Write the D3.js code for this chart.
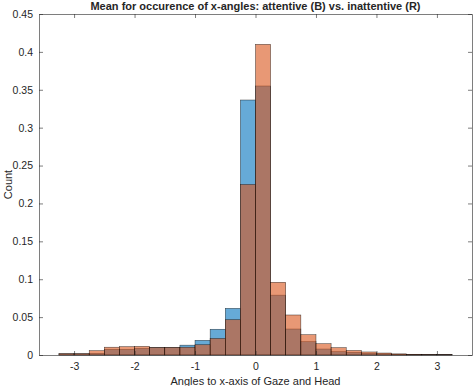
<!DOCTYPE html>
<html>
<head>
<meta charset="utf-8">
<script src="https://cdn.jsdelivr.net/npm/d3@7"></script>
<style>
  body { margin: 0; background: #fff; }
  text { font-family: "Liberation Sans", Arial, Helvetica, sans-serif; fill: #262626; }
</style>
</head>
<body>
<svg id="chart"></svg>
<script>
// left edges of the bins (width 0.25)
var binStart = [-3.25, -3.0, -2.75, -2.5, -2.25, -2.0, -1.75, -1.5, -1.25, -1.0, -0.75, -0.5, -0.25,
                0, 0.25, 0.5, 0.75, 1.0, 1.25, 1.5, 1.75, 2.0, 2.25, 2.5, 2.75, 3.0];
var binWidth = 0.25;

// attentive (B)
var attentive = [0.0015, 0.0015, 0.0022, 0.0075, 0.0075, 0.0088, 0.0102, 0.0102, 0.0130, 0.0194, 0.0340, 0.0616, 0.3365,
                 0.355, 0.079, 0.0343, 0.0176, 0.0079, 0.0044, 0.0035, 0.0022, 0.0015, 0.0010, 0.0008, 0.0005, 0.0004];
// inattentive (R)
var inattentive = [0.0018, 0.0018, 0.0057, 0.0103, 0.0110, 0.0114, 0.0100, 0.0101, 0.0103, 0.0135, 0.0218, 0.0465, 0.225,
                   0.410, 0.096, 0.0528, 0.0268, 0.0149, 0.0097, 0.0060, 0.0040, 0.0026, 0.0015, 0.0010, 0.0007, 0.0006];

var xTicks = [-3, -2, -1, 0, 1, 2, 3];
var yTicks = [0, 0.05, 0.1, 0.15, 0.2, 0.25, 0.3, 0.35, 0.4, 0.45];

var W = 474, H = 386;
var margin = {top: 14, right: 2, bottom: 31, left: 39},
    width = W - margin.left - margin.right,
    height = H - margin.top - margin.bottom;

var svg = d3.select("#chart")
    .attr("width", W)
    .attr("height", H);

var g = svg.append("g")
    .attr("transform", "translate(" + margin.left + "," + margin.top + ")");

var x = d3.scaleLinear()
    .domain([-3.58, 3.58])
    .range([0, width]);

var y = d3.scaleLinear()
    .domain([0, 0.45])
    .range([height, 0]);

function drawBars(values, color, cls) {
  g.selectAll("." + cls)
      .data(values)
    .enter().append("rect")
      .attr("class", cls)
      .attr("x", function(d, i) { return x(binStart[i]); })
      .attr("width", function(d, i) { return x(binStart[i] + binWidth) - x(binStart[i]); })
      .attr("y", function(d) { return y(d); })
      .attr("height", function(d) { return y(0) - y(d); })
      .attr("fill", color)
      .attr("fill-opacity", 0.6)
      .attr("stroke", "#000")
      .attr("stroke-opacity", 0.75)
      .attr("stroke-width", 0.5);
}

drawBars(attentive, "rgb(0,114,189)", "blue");
drawBars(inattentive, "rgb(217,83,25)", "orange");

// axes (box with inward ticks)
var tickLen = 4;
var axisColor = "#262626";

var xAxis = d3.axisBottom(x).tickValues(xTicks).tickSizeInner(-tickLen).tickSizeOuter(0).tickPadding(8)
    .tickFormat(function(d) { return d; });
var xTop = d3.axisTop(x).tickValues(xTicks).tickSizeInner(-tickLen).tickSizeOuter(0).tickFormat("");
var yAxis = d3.axisLeft(y).tickValues(yTicks).tickSizeInner(-tickLen).tickSizeOuter(0).tickPadding(6)
    .tickFormat(function(d) { return d; });
var yRight = d3.axisRight(y).tickValues(yTicks).tickSizeInner(-tickLen).tickSizeOuter(0).tickFormat("");

var gx = g.append("g").attr("transform", "translate(0," + height + ")").call(xAxis);
var gxt = g.append("g").call(xTop);
var gy = g.append("g").call(yAxis);
var gyr = g.append("g").attr("transform", "translate(" + width + ",0)").call(yRight);

[gx, gxt, gy, gyr].forEach(function(a) {
  a.selectAll(".domain").attr("stroke", axisColor).attr("stroke-width", 0.6);
  a.selectAll(".tick line").attr("stroke", axisColor).attr("stroke-width", 0.6);
  a.selectAll("text").attr("font-size", 10.5).attr("fill", "#262626")
    .style("font-family", "'Liberation Sans', Arial, sans-serif");
});

// title
svg.append("text")
    .attr("x", margin.left + width / 2)
    .attr("y", 10)
    .attr("text-anchor", "middle")
    .attr("font-weight", "bold")
    .attr("font-size", 11)
    .text("Mean for occurence of x-angles: attentive (B) vs. inattentive (R)");

// x label
svg.append("text")
    .attr("x", margin.left + width / 2)
    .attr("y", 385)
    .attr("text-anchor", "middle")
    .attr("font-size", 11)
    .text("Angles to x-axis of Gaze and Head");

// y label
svg.append("text")
    .attr("transform", "translate(12," + (margin.top + height / 2) + ") rotate(-90)")
    .attr("text-anchor", "middle")
    .attr("font-size", 11)
    .text("Count");
</script>
</body>
</html>
